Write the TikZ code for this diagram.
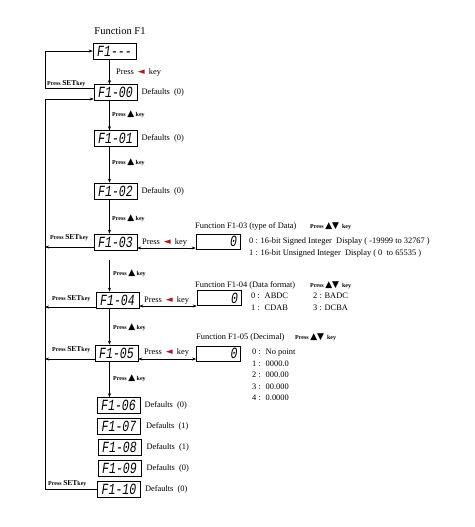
\documentclass[tikz,border=0pt]{standalone}
\usepackage{fontspec}
\usepackage{graphicx}
\setmainfont{Liberation Serif}
\newfontfamily\segfont{Liberation Mono}
\newfontfamily\symfont{DejaVu Sans}
\usetikzlibrary{arrows.meta,positioning}
\definecolor{keyred}{RGB}{170,25,35}
\newcommand{\segtext}[1]{\scalebox{1}[1.35]{\segfont\itshape\fontsize{11.5}{12}\selectfont #1}}
\newcommand{\upsym}{{\symfont\fontsize{9}{8}\selectfont ▲}}
\newcommand{\updownsym}{{\symfont\fontsize{9}{8}\selectfont ▲▼}}
\newcommand{\leftsym}{{\symfont\fontsize{9}{8}\selectfont\textcolor{keyred}{◄}}}
\newcommand{\setkey}{Press {\fontsize{7.5}{8}\selectfont SET}key}

\begin{document}
\begin{tikzpicture}[x=1pt, y=-1pt, >={Stealth[length=4pt, width=3pt]},
  every node/.style={inner sep=0pt},
  disp/.style={draw, line width=0.6pt, minimum width=43pt, minimum height=16pt},
  valbox/.style={draw, line width=0.6pt, minimum width=44pt, minimum height=15pt, text width=38pt, align=right},
  note/.style={anchor=west, font=\fontsize{8.4}{10}\selectfont},
  keynote/.style={anchor=west, font=\fontsize{6}{7}\selectfont\bfseries},
  link/.style={line width=0.5pt}]
  \useasboundingbox (0,0) rectangle (474,527);

  \node (title) at (120,31) {\fontsize{10.5}{12}\selectfont Function F1};

  \node[disp] (f1) at (114.5,51) {\segtext{F1-{}-{}-}};
  \node[disp] (f00) at (115.5,92.5) {\segtext{F1-00}};
  \node[disp] (f01) at (115.5,138.5) {\segtext{F1-01}};
  \node[disp] (f02) at (115.5,191) {\segtext{F1-02}};
  \node[disp] (f03) at (115.5,242) {\segtext{F1-03}};
  \node[disp] (f04) at (117.5,300) {\segtext{F1-04}};
  \node[disp] (f05) at (116.5,353) {\segtext{F1-05}};
  \node[disp] (f06) at (118.5,405.5) {\segtext{F1-06}};
  \node[disp] (f07) at (119,426.5) {\segtext{F1-07}};
  \node[disp] (f08) at (119.5,447.5) {\segtext{F1-08}};
  \node[disp] (f09) at (119.5,468) {\segtext{F1-09}};
  \node[disp] (f10) at (119,489) {\segtext{F1-10}};

  \node[note, right=4pt of f00] (d00) {Defaults~~(0)};
  \node[note, right=4pt of f01] (d01) {Defaults~~(0)};
  \node[note, right=4pt of f02] (d02) {Defaults~~(0)};
  \node[note, right=4pt of f06] (d06) {Defaults~~(0)};
  \node[note, right=5pt of f07] (d07) {Defaults~~(1)};
  \node[note, right=5pt of f08] (d08) {Defaults~~(1)};
  \node[note, right=5pt of f09] (d09) {Defaults~~(0)};
  \node[note, right=4pt of f10] (d10) {Defaults~~(0)};

  % down the list
  \coordinate (ax) at (109.5,0);
  \coordinate (s03) at ([yshift=-10pt]f03.south);
  \draw[link,->] (f1.south -| ax) -- (f00.north -| ax);
  \draw[link,->] (f00.south -| ax) -- (f01.north -| ax);
  \draw[link,->] (f01.south -| ax) -- (f02.north -| ax);
  \draw[link,->] (f02.south -| ax) -- (f03.north -| ax);
  \draw[link,->] (s03 -| ax) -- (f04.north -| ax);
  \draw[link,->] (f04.south -| ax) -- (f05.north -| ax);
  \draw[link,->] (f05.south -| ax) -- (f06.north -| ax);

  \node[note] (k1) at (116,72) {Press\hspace{4pt}\leftsym\hspace{4pt}key};
  \node[keynote] (k00) at (112,114) {Press \upsym\ key};
  \node[keynote] (k01) at (112,162) {Press \upsym\ key};
  \node[keynote] (k02) at (112,218) {Press \upsym\ key};
  \node[keynote] (k03) at (113,273) {Press \upsym\ key};
  \node[keynote] (k04) at (113,327) {Press \upsym\ key};
  \node[keynote] (k05) at (113,378) {Press \upsym\ key};

  % SET key returns
  \coordinate (lx) at (45,0);
  \coordinate (e00) at ([yshift=4.5pt]f00.west);
  \coordinate (r00) at ([yshift=-6.5pt]f00.west);
  \coordinate (e03) at ([yshift=-5pt]f03.west);
  \coordinate (e04) at ([yshift=-7pt]f04.west);
  \coordinate (e05) at ([yshift=-6pt]f05.west);
  \draw[link,->] (e00) -- (e00 -| lx) |- (f1.west);
  \draw[link,->] (f10.west) -- (f10.west -| lx) |- (r00);
  \draw[link,->] (e03) -- (e03 -| lx);
  \draw[link,->] (e04) -- (e04 -| lx);
  \draw[link,->] (e05) -- (e05 -| lx);

  \node[keynote] (t00) at (47,84) {\setkey};
  \node[keynote] (t03) at (50,238) {\setkey};
  \node[keynote] (t04) at (52,299) {\setkey};
  \node[keynote] (t05) at (52,350) {\setkey};
  \node[keynote] (t10) at (48,484) {\setkey};

  % value panels
  \node[valbox] (v03) at (218,241.5) {\segtext{0}};
  \node[valbox] (v04) at (219,298) {\segtext{0}};
  \node[valbox] (v05) at (218.5,353.5) {\segtext{0}};
  \coordinate (m03) at ([yshift=-6pt]f03.east);
  \coordinate (m04) at ([yshift=-6pt]f04.east);
  \coordinate (m05) at ([yshift=-6pt]f05.east);
  \draw[link,<->] (m03) -- (m03 -| v03.west);
  \draw[link,<->] (m04) -- (m04 -| v04.west);
  \draw[link,<->] (m05) -- (m05 -| v05.west);
  \node[note] (p03) at (142,242) {Press\hspace{4pt}\leftsym\hspace{4pt}key};
  \node[note] (p04) at (144,300) {Press\hspace{4pt}\leftsym\hspace{4pt}key};
  \node[note] (p05) at (144,352) {Press\hspace{4pt}\leftsym\hspace{4pt}key};

  \node[note] (h03) at (195,226) {Function F1-03 (type of Data)};
  \node[keynote] (u03) at (310,226) {Press \updownsym\ \ key};
  \node[note, align=left, font=\fontsize{8.4}{12}\selectfont] (o03) at (249,247)
    {0 : 16-bit Signed Integer~ Display ( -19999 to 32767 )\\1 : 16-bit Unsigned Integer~ Display ( 0~ to 65535 )};

  \node[note] (h04) at (195,285) {Function F1-04 (Data format)};
  \node[keynote] (u04) at (310,285) {Press \updownsym\ \ key};
  \node[note, align=left, font=\fontsize{8.4}{12}\selectfont] (o04a) at (251,302) {0 :~ ABDC\\1 :~ CDAB};
  \node[note, align=left, font=\fontsize{8.4}{12}\selectfont] (o04b) at (313,302) {2 : BADC\\3 : DCBA};

  \node[note] (h05) at (196,337) {Function F1-05 (Decimal)};
  \node[keynote] (u05) at (295,337) {Press \updownsym\ \ key};
  \node[note, align=left, font=\fontsize{8.4}{11.5}\selectfont] (o05) at (252,375)
    {0 :~ No point\\1 :~ 0000.0\\2 :~ 000.00\\3 :~ 00.000\\4 :~ 0.0000};
\end{tikzpicture}
\end{document}
